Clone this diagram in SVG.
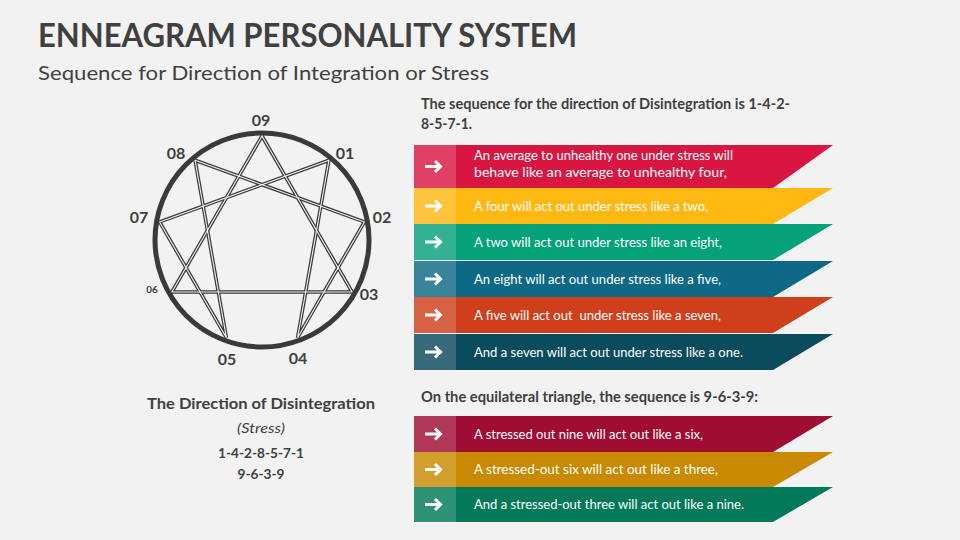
<svg xmlns="http://www.w3.org/2000/svg" xmlns:xlink="http://www.w3.org/1999/xlink" width="960" height="540" viewBox="0 0 960 540">
<style>
.t{font-family:Lato,"Liberation Sans",sans-serif;fill:#404040}
.b{font-weight:bold}
.bt{font-family:Lato,"Liberation Sans",sans-serif;fill:#ffffff;font-size:14px}
.lbl{font-family:Lato,"Liberation Sans",sans-serif;font-weight:bold;fill:#404040;font-size:16px;text-anchor:middle}
.lk{fill:#ffffff;fill-opacity:0.18}
.ar{fill:none;stroke:#ffffff;stroke-width:3}
.ldark{fill:none;stroke:#3a3a3a;stroke-width:3.6}
.llight{fill:none;stroke:#f4f4f4;stroke-width:1.1}
</style>
<defs>
<path id="arrow" d="M-8,0 H7 M2,-5.5 L7.5,0 L2,5.5"/>
<path id="hex" d="M328.9,160.3 L297.6,337.7 M297.6,337.7 L364.4,221.9 M364.4,221.9 L195.1,160.3 M195.1,160.3 L226.4,337.7 M226.4,337.7 L159.6,221.9 M159.6,221.9 L328.9,160.3"/>
<path id="tri" d="M262,136 L171.9,292 M171.9,292 L352.1,292 M352.1,292 L262,136"/>
</defs>
<rect x="0" y="0" width="960" height="540" fill="#f2f2f2"/>

<g id="title">
<text class="t b" x="38" y="47" font-size="32" textLength="539" lengthAdjust="spacingAndGlyphs">ENNEAGRAM PERSONALITY SYSTEM</text>
<text class="t" x="38" y="80" font-size="20" textLength="451" lengthAdjust="spacingAndGlyphs">Sequence for Direction of Integration or Stress</text>
</g>

<g id="enneagram">
<circle cx="262" cy="240" r="107" fill="none" stroke="#3a3a3a" stroke-width="5"/>
<text class="lbl" x="261" y="126">09</text>
<text class="lbl" x="345" y="159">01</text>
<text class="lbl" x="382" y="223">02</text>
<text class="lbl" x="369" y="300">03</text>
<text class="lbl" x="298" y="364">04</text>
<text class="lbl" x="227" y="365">05</text>
<text class="lbl" x="152" y="293" style="font-size:10px">06</text>
<text class="lbl" x="139" y="223">07</text>
<text class="lbl" x="176" y="159">08</text>
</g>

<g id="connectors">
<use xlink:href="#hex" class="ldark"/>
<use xlink:href="#tri" class="ldark"/>
<use xlink:href="#hex" class="llight"/>
<use xlink:href="#tri" class="llight"/>
</g>

<g id="legend">
<text class="t b" x="261" y="409" font-size="16" text-anchor="middle" textLength="228" lengthAdjust="spacingAndGlyphs">The Direction of Disintegration</text>
<text class="t" x="261" y="433" font-size="14" font-style="italic" text-anchor="middle" textLength="48" lengthAdjust="spacingAndGlyphs">(Stress)</text>
<text class="t b" x="261" y="458" font-size="14" text-anchor="middle" textLength="86" lengthAdjust="spacingAndGlyphs">1-4-2-8-5-7-1</text>
<text class="t b" x="261" y="479" font-size="14" text-anchor="middle" textLength="47" lengthAdjust="spacingAndGlyphs">9-6-3-9</text>
</g>

<g id="heading-disintegration">
<text class="t b" x="421" y="109" font-size="14.5" textLength="369" lengthAdjust="spacingAndGlyphs">The sequence for the direction of Disintegration is 1-4-2-</text>
<text class="t b" x="421" y="129" font-size="14.5" textLength="51" lengthAdjust="spacingAndGlyphs">8-5-7-1.</text>
</g>

<g id="banner-1">
<polygon points="414,145 833,145 773,188 414,188" fill="#d81641"/>
<rect class="lk" x="414" y="145" width="42" height="43"/>
<use xlink:href="#arrow" class="ar" x="433" y="166.5"/>
<text class="bt" x="474" y="160" textLength="259" lengthAdjust="spacingAndGlyphs">An average to unhealthy one under stress will</text>
<text class="bt" x="474" y="177" textLength="253" lengthAdjust="spacingAndGlyphs">behave like an average to unhealthy four,</text>
</g>
<g id="banner-2">
<polygon points="414,188 833,188 773,224 414,224" fill="#ffb812"/>
<rect class="lk" x="414" y="188" width="42" height="36"/>
<use xlink:href="#arrow" class="ar" x="433" y="206"/>
<text class="bt" x="474" y="210.5" textLength="234" lengthAdjust="spacingAndGlyphs">A four will act out under stress like a two,</text>
</g>
<g id="banner-3">
<polygon points="414,224 833,224 773,260 414,260" fill="#05a27a"/>
<rect class="lk" x="414" y="224" width="42" height="36"/>
<use xlink:href="#arrow" class="ar" x="433" y="242"/>
<text class="bt" x="474" y="246.5" textLength="248" lengthAdjust="spacingAndGlyphs">A two will act out under stress like an eight,</text>
</g>
<g id="banner-4">
<polygon points="414,261 833,261 773,297 414,297" fill="#0e6986"/>
<rect class="lk" x="414" y="261" width="42" height="36"/>
<use xlink:href="#arrow" class="ar" x="433" y="279"/>
<text class="bt" x="474" y="283.5" textLength="247" lengthAdjust="spacingAndGlyphs">An eight will act out under stress like a five,</text>
</g>
<g id="banner-5">
<polygon points="414,297 833,297 773,333 414,333" fill="#cf3f1b"/>
<rect class="lk" x="414" y="297" width="42" height="36"/>
<use xlink:href="#arrow" class="ar" x="433" y="315"/>
<text class="bt" x="474" y="319.5" textLength="247" lengthAdjust="spacingAndGlyphs" xml:space="preserve">A five will act out  under stress like a seven,</text>
</g>
<g id="banner-6">
<polygon points="414,334 833,334 773,370 414,370" fill="#0b4b5e"/>
<rect class="lk" x="414" y="334" width="42" height="36"/>
<use xlink:href="#arrow" class="ar" x="433" y="352"/>
<text class="bt" x="474" y="356.5" textLength="269" lengthAdjust="spacingAndGlyphs">And a seven will act out under stress like a one.</text>
</g>

<g id="heading-triangle">
<text class="t b" x="421" y="402" font-size="14.5" textLength="337" lengthAdjust="spacingAndGlyphs">On the equilateral triangle, the sequence is 9-6-3-9:</text>
</g>

<g id="banner-7">
<polygon points="414,416 833,416 773,452 414,452" fill="#a00d32"/>
<rect class="lk" x="414" y="416" width="42" height="36"/>
<use xlink:href="#arrow" class="ar" x="433" y="434"/>
<text class="bt" x="474" y="438.5" textLength="229" lengthAdjust="spacingAndGlyphs">A stressed out nine will act out like a six,</text>
</g>
<g id="banner-8">
<polygon points="414,452 833,452 773,487 414,487" fill="#c98a01"/>
<rect class="lk" x="414" y="452" width="42" height="35"/>
<use xlink:href="#arrow" class="ar" x="433" y="469.5"/>
<text class="bt" x="474" y="474" textLength="244" lengthAdjust="spacingAndGlyphs">A stressed-out six will act out like a three,</text>
</g>
<g id="banner-9">
<polygon points="414,487 833,487 773,522 414,522" fill="#027a5a"/>
<rect class="lk" x="414" y="487" width="42" height="35"/>
<use xlink:href="#arrow" class="ar" x="433" y="504.5"/>
<text class="bt" x="474" y="509" textLength="270" lengthAdjust="spacingAndGlyphs">And a stressed-out three will act out like a nine.</text>
</g>
</svg>
